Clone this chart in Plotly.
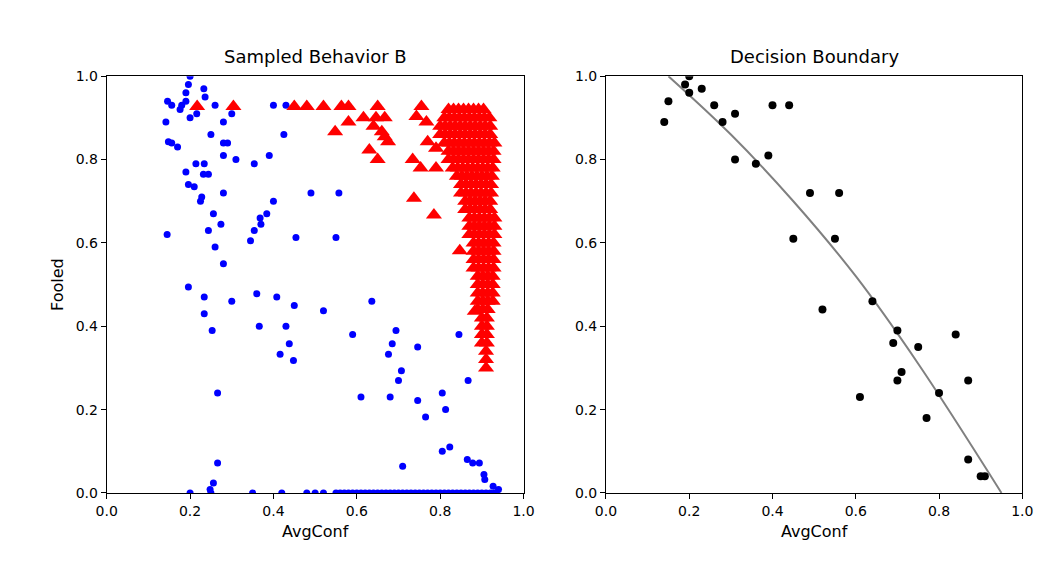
import plotly.graph_objects as go

# Sampled behavior B: non-fooling samples (blue)
blue_x = [0.20, 0.196, 0.19, 0.19, 0.18, 0.146, 0.156, 0.176, 0.233, 0.236, 0.20, 0.216, 0.26, 0.30,
          0.142, 0.28, 0.25, 0.148, 0.156, 0.17, 0.28, 0.29, 0.40, 0.43, 0.425, 0.28, 0.31, 0.354,
          0.39, 0.214, 0.234, 0.19, 0.232, 0.244, 0.196, 0.21, 0.228, 0.225, 0.28, 0.49, 0.557,
          0.40, 0.384, 0.368, 0.37, 0.354, 0.256, 0.274, 0.244, 0.145, 0.345, 0.454, 0.55, 0.26,
          0.28, 0.196, 0.234, 0.30, 0.36, 0.408, 0.45, 0.52, 0.636, 0.234, 0.253, 0.366, 0.43,
          0.438, 0.416, 0.448, 0.59, 0.694, 0.685, 0.676, 0.746, 0.845, 0.707, 0.70, 0.867, 0.266,
          0.61, 0.68, 0.746, 0.805, 0.813, 0.765, 0.805, 0.823, 0.865, 0.878, 0.894, 0.905, 0.907,
          0.71, 0.266, 0.256, 0.248, 0.927, 0.94,
          0.20, 0.25, 0.35, 0.42, 0.48, 0.50, 0.52, 0.55, 0.56, 0.57, 0.58, 0.59, 0.60, 0.61, 0.62,
          0.63, 0.64, 0.65, 0.66, 0.67, 0.68, 0.69, 0.70, 0.71, 0.72, 0.73, 0.74, 0.75, 0.76, 0.77,
          0.78, 0.79, 0.80, 0.81, 0.82, 0.83, 0.84, 0.85, 0.86, 0.87, 0.88, 0.89, 0.90, 0.91, 0.92,
          0.93]
blue_y = [1.0, 0.98, 0.96, 0.94, 0.93, 0.94, 0.93, 0.92, 0.97, 0.95, 0.90, 0.91, 0.93, 0.91,
          0.89, 0.89, 0.86, 0.843, 0.84, 0.83, 0.84, 0.84, 0.93, 0.93, 0.86, 0.81, 0.80, 0.79,
          0.81, 0.79, 0.79, 0.77, 0.765, 0.765, 0.74, 0.735, 0.71, 0.70, 0.72, 0.72, 0.72,
          0.70, 0.67, 0.66, 0.645, 0.63, 0.67, 0.645, 0.63, 0.62, 0.605, 0.613, 0.613, 0.59,
          0.55, 0.494, 0.47, 0.46, 0.478, 0.47, 0.45, 0.437, 0.46, 0.43, 0.39, 0.40, 0.40,
          0.358, 0.333, 0.318, 0.38, 0.39, 0.358, 0.333, 0.35, 0.38, 0.293, 0.27, 0.27, 0.24,
          0.23, 0.23, 0.222, 0.24, 0.20, 0.182, 0.10, 0.11, 0.08, 0.072, 0.072, 0.044, 0.032,
          0.064, 0.072, 0.024, 0.008, 0.016, 0.008,
          0.0, 0.0, 0.0, 0.0, 0.0, 0.0, 0.0, 0.0, 0.0, 0.0, 0.0, 0.0, 0.0, 0.0, 0.0,
          0.0, 0.0, 0.0, 0.0, 0.0, 0.0, 0.0, 0.0, 0.0, 0.0, 0.0, 0.0, 0.0, 0.0, 0.0,
          0.0, 0.0, 0.0, 0.0, 0.0, 0.0, 0.0, 0.0, 0.0, 0.0, 0.0, 0.0, 0.0, 0.0, 0.0,
          0.0]

# Sampled behavior B: fooling samples (red), scattered ones
red_x = [0.217, 0.304, 0.45, 0.48, 0.52, 0.563, 0.58, 0.65, 0.755, 0.58, 0.548, 0.616, 0.646,
         0.667, 0.64, 0.66, 0.675, 0.667, 0.63, 0.65, 0.743, 0.767, 0.77, 0.79, 0.734, 0.753,
         0.79, 0.737, 0.785, 0.847, 0.883]
red_y = [0.927, 0.927, 0.927, 0.927, 0.927, 0.927, 0.927, 0.927, 0.927, 0.89, 0.867, 0.90, 0.90,
         0.90, 0.88, 0.867, 0.843, 0.855, 0.823, 0.80, 0.903, 0.89, 0.843, 0.827, 0.80, 0.78,
         0.78, 0.707, 0.667, 0.581, 0.436]

# dense red cluster: per row y, leftmost and rightmost x
cluster_y = [0.92, 0.90, 0.88, 0.86, 0.84, 0.82, 0.80, 0.78, 0.76, 0.74, 0.72, 0.70, 0.68, 0.66,
             0.64, 0.62, 0.60, 0.58, 0.56, 0.54, 0.52, 0.50, 0.48, 0.46, 0.44, 0.42, 0.40, 0.38,
             0.36, 0.34, 0.32, 0.30]
cluster_left = [0.82, 0.81, 0.80, 0.80, 0.81, 0.82, 0.82, 0.83, 0.84, 0.85, 0.85, 0.86, 0.86,
                0.87, 0.87, 0.87, 0.88, 0.88, 0.88, 0.88, 0.89, 0.89, 0.89, 0.89, 0.89, 0.90,
                0.90, 0.90, 0.90, 0.91, 0.91, 0.91]
cluster_right = [0.91, 0.92, 0.93, 0.93, 0.93, 0.93, 0.93, 0.93, 0.93, 0.93, 0.93, 0.93, 0.93,
                 0.93, 0.93, 0.93, 0.93, 0.93, 0.93, 0.93, 0.93, 0.93, 0.93, 0.93, 0.92, 0.92,
                 0.92, 0.92, 0.92, 0.92, 0.92, 0.92]

for yv, lo, hi in zip(cluster_y, cluster_left, cluster_right):
    xv = lo
    while xv <= hi + 1e-9:
        red_x.append(round(xv, 3))
        red_y.append(yv)
        xv += 0.012

# Decision boundary: selected samples (black)
dec_x = [0.20, 0.19, 0.20, 0.23, 0.15, 0.14, 0.26, 0.31, 0.28, 0.40, 0.44, 0.31, 0.36, 0.39,
         0.49, 0.56, 0.45, 0.55, 0.64, 0.52, 0.70, 0.69, 0.75, 0.84, 0.71, 0.70, 0.87, 0.61,
         0.80, 0.77, 0.87, 0.90, 0.91]
dec_y = [1.0, 0.98, 0.96, 0.97, 0.94, 0.89, 0.93, 0.91, 0.89, 0.93, 0.93, 0.80, 0.79, 0.81,
         0.72, 0.72, 0.61, 0.61, 0.46, 0.44, 0.39, 0.36, 0.35, 0.38, 0.29, 0.27, 0.27, 0.23,
         0.24, 0.18, 0.08, 0.04, 0.04]

# fitted boundary curve
curve_x = [0.15, 0.30, 0.45, 0.60, 0.75, 0.95]
curve_y = [1.00, 0.86, 0.70, 0.52, 0.31, 0.00]

font = dict(family="DejaVu Sans", size=14, color="black")

fig = go.Figure()
fig.add_trace(go.Scatter(x=blue_x, y=blue_y, mode="markers", xaxis="x", yaxis="y",
                         marker=dict(color="blue", size=7, line_width=0)))
fig.add_trace(go.Scatter(x=red_x, y=red_y, mode="markers", xaxis="x", yaxis="y",
                         marker=dict(color="red", size=14, symbol="triangle-up", line_width=0)))
fig.add_trace(go.Scatter(x=curve_x, y=curve_y, mode="lines", xaxis="x2", yaxis="y2",
                         line=dict(color="gray", width=2, shape="spline")))
fig.add_trace(go.Scatter(x=dec_x, y=dec_y, mode="markers", xaxis="x2", yaxis="y2",
                         marker=dict(color="black", size=8, line_width=0)))

ax = dict(range=[0, 1], dtick=0.2, tickformat=".1f", showgrid=False, zeroline=False,
          showline=True, mirror=True, linecolor="black", linewidth=1, automargin=False,
          ticks="outside", ticklen=5, tickcolor="black", tickfont=font)
tfont = dict(family="DejaVu Sans", size=16)
fig.update_layout(
    width=1050, height=578, showlegend=False,
    plot_bgcolor="white", paper_bgcolor="white",
    margin=dict(l=0, r=0, t=0, b=0), font=font,
    xaxis=dict(ax, domain=[0.094, 0.491], anchor="y",
               title=dict(text="AvgConf", font=tfont, standoff=8)),
    yaxis=dict(ax, domain=[0.161, 0.882], anchor="x",
               title=dict(text="Fooled", font=tfont, standoff=8)),
    xaxis2=dict(ax, domain=[0.5695, 0.966], anchor="y2",
                title=dict(text="AvgConf", font=tfont, standoff=8)),
    yaxis2=dict(ax, domain=[0.161, 0.882], anchor="x2"),
    annotations=[
        dict(text="Sampled Behavior B", x=0.2925, y=0.895, xref="paper", yref="paper",
             xanchor="center", yanchor="bottom", showarrow=False,
             font=dict(family="DejaVu Sans", size=18)),
        dict(text="Decision Boundary", x=0.768, y=0.895, xref="paper", yref="paper",
             xanchor="center", yanchor="bottom", showarrow=False,
             font=dict(family="DejaVu Sans", size=18)),
    ],
)
fig.write_html("out.html")
